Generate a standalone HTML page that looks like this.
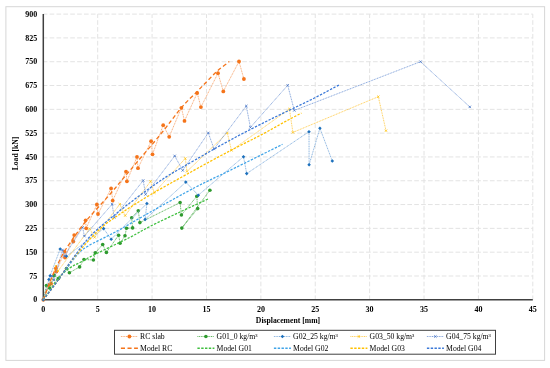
<!DOCTYPE html>
<html><head><meta charset="utf-8"><style>
html,body{margin:0;padding:0;background:#fff;}
svg{display:block;}
svg text{font-family:"Liberation Serif",serif;font-size:8px;fill:#000;}
</style></head><body>
<svg width="550" height="368" viewBox="0 0 550 368">
<rect x="5.9" y="6.7" width="538.7" height="353.7" fill="#fff" stroke="#D6D6D6" stroke-width="1"/>
<path d="M43.3,14.10H532.8 M43.3,37.91H532.8 M43.3,61.72H532.8 M43.3,85.52H532.8 M43.3,109.33H532.8 M43.3,133.14H532.8 M43.3,156.95H532.8 M43.3,180.76H532.8 M43.3,204.57H532.8 M43.3,228.37H532.8 M43.3,252.18H532.8 M43.3,275.99H532.8" stroke="#E3E3E3" stroke-width="1" stroke-dasharray="4.7,2.18" stroke-dashoffset="0.6" fill="none"/>
<path d="M97.69,14.1V299.8 M152.08,14.1V299.8 M206.47,14.1V299.8 M260.86,14.1V299.8 M315.24,14.1V299.8 M369.63,14.1V299.8 M424.02,14.1V299.8 M478.41,14.1V299.8 M532.80,14.1V299.8" stroke="#E3E3E3" stroke-width="1" stroke-dasharray="4.7,2.18" stroke-dashoffset="0.8" fill="none"/>
<path d="M43.3,14.1V299.8H532.8" stroke="#404040" stroke-width="1.5" fill="none"/>
<polyline points="43.3,299.8 49.2,284.6 51.1,283.7 55.8,268.3 56.4,271.5 64.6,251.7 65.0,257.6 74.2,235.1 73.3,241.5 85.6,220.3 86.2,228.3 96.9,204.5 98.0,214.0 111.1,188.4 112.7,200.6 126.0,171.6 126.9,181.3 137.0,156.9 138.0,168.2 151.1,141.2 152.5,154.3 163.2,125.2 169.2,136.8 181.4,107.8 184.5,120.9 197.2,93.0 200.9,107.1 218.0,73.2 223.3,91.4 239.0,61.5 243.9,79.0" fill="none" stroke="#F7A066" stroke-width="0.9" stroke-dasharray="1,0.7"/>
<circle cx="43.3" cy="299.8" r="1.9" fill="#F5741A"/>
<circle cx="49.2" cy="284.6" r="1.9" fill="#F5741A"/>
<circle cx="51.1" cy="283.7" r="1.9" fill="#F5741A"/>
<circle cx="55.8" cy="268.3" r="1.9" fill="#F5741A"/>
<circle cx="56.4" cy="271.5" r="1.9" fill="#F5741A"/>
<circle cx="64.6" cy="251.7" r="1.9" fill="#F5741A"/>
<circle cx="65.0" cy="257.6" r="1.9" fill="#F5741A"/>
<circle cx="74.2" cy="235.1" r="1.9" fill="#F5741A"/>
<circle cx="73.3" cy="241.5" r="1.9" fill="#F5741A"/>
<circle cx="85.6" cy="220.3" r="1.9" fill="#F5741A"/>
<circle cx="86.2" cy="228.3" r="1.9" fill="#F5741A"/>
<circle cx="96.9" cy="204.5" r="1.9" fill="#F5741A"/>
<circle cx="98.0" cy="214.0" r="1.9" fill="#F5741A"/>
<circle cx="111.1" cy="188.4" r="1.9" fill="#F5741A"/>
<circle cx="112.7" cy="200.6" r="1.9" fill="#F5741A"/>
<circle cx="126.0" cy="171.6" r="1.9" fill="#F5741A"/>
<circle cx="126.9" cy="181.3" r="1.9" fill="#F5741A"/>
<circle cx="137.0" cy="156.9" r="1.9" fill="#F5741A"/>
<circle cx="138.0" cy="168.2" r="1.9" fill="#F5741A"/>
<circle cx="151.1" cy="141.2" r="1.9" fill="#F5741A"/>
<circle cx="152.5" cy="154.3" r="1.9" fill="#F5741A"/>
<circle cx="163.2" cy="125.2" r="1.9" fill="#F5741A"/>
<circle cx="169.2" cy="136.8" r="1.9" fill="#F5741A"/>
<circle cx="181.4" cy="107.8" r="1.9" fill="#F5741A"/>
<circle cx="184.5" cy="120.9" r="1.9" fill="#F5741A"/>
<circle cx="197.2" cy="93.0" r="1.9" fill="#F5741A"/>
<circle cx="200.9" cy="107.1" r="1.9" fill="#F5741A"/>
<circle cx="218.0" cy="73.2" r="1.9" fill="#F5741A"/>
<circle cx="223.3" cy="91.4" r="1.9" fill="#F5741A"/>
<circle cx="239.0" cy="61.5" r="1.9" fill="#F5741A"/>
<circle cx="243.9" cy="79.0" r="1.9" fill="#F5741A"/>
<polyline points="43.3,299.8 46.5,285.5 49.6,288.0 54.3,275.4 58.5,278.6 66.5,268.5 69.4,272.8 79.6,266.9 84.0,259.5 93.4,260.0 95.3,252.8 102.7,244.5 106.4,252.4 118.6,235.2 120.1,243.2 125.0,235.8 126.5,228.2 132.6,227.9 131.7,217.7 138.3,210.8 139.9,222.6 180.1,202.6 181.4,215.0 196.8,196.3 197.7,208.6 181.8,228.1 209.9,190.2" fill="none" stroke="#4FAE4F" stroke-width="0.9" stroke-dasharray="1,0.7"/>
<circle cx="46.5" cy="285.5" r="1.8" fill="#2E9A2E"/>
<circle cx="49.6" cy="288.0" r="1.8" fill="#2E9A2E"/>
<circle cx="54.3" cy="275.4" r="1.8" fill="#2E9A2E"/>
<circle cx="58.5" cy="278.6" r="1.8" fill="#2E9A2E"/>
<circle cx="66.5" cy="268.5" r="1.8" fill="#2E9A2E"/>
<circle cx="69.4" cy="272.8" r="1.8" fill="#2E9A2E"/>
<circle cx="79.6" cy="266.9" r="1.8" fill="#2E9A2E"/>
<circle cx="84.0" cy="259.5" r="1.8" fill="#2E9A2E"/>
<circle cx="93.4" cy="260.0" r="1.8" fill="#2E9A2E"/>
<circle cx="95.3" cy="252.8" r="1.8" fill="#2E9A2E"/>
<circle cx="102.7" cy="244.5" r="1.8" fill="#2E9A2E"/>
<circle cx="106.4" cy="252.4" r="1.8" fill="#2E9A2E"/>
<circle cx="118.6" cy="235.2" r="1.8" fill="#2E9A2E"/>
<circle cx="120.1" cy="243.2" r="1.8" fill="#2E9A2E"/>
<circle cx="125.0" cy="235.8" r="1.8" fill="#2E9A2E"/>
<circle cx="126.5" cy="228.2" r="1.8" fill="#2E9A2E"/>
<circle cx="132.6" cy="227.9" r="1.8" fill="#2E9A2E"/>
<circle cx="131.7" cy="217.7" r="1.8" fill="#2E9A2E"/>
<circle cx="138.3" cy="210.8" r="1.8" fill="#2E9A2E"/>
<circle cx="139.9" cy="222.6" r="1.8" fill="#2E9A2E"/>
<circle cx="180.1" cy="202.6" r="1.8" fill="#2E9A2E"/>
<circle cx="181.4" cy="215.0" r="1.8" fill="#2E9A2E"/>
<circle cx="196.8" cy="196.3" r="1.8" fill="#2E9A2E"/>
<circle cx="197.7" cy="208.6" r="1.8" fill="#2E9A2E"/>
<circle cx="181.8" cy="228.1" r="1.8" fill="#2E9A2E"/>
<circle cx="209.9" cy="190.2" r="1.8" fill="#2E9A2E"/>
<polyline points="43.3,299.8 48.9,279.5 50.1,275.8 60.2,249.0 66.4,256.3 103.6,228.6 111.2,239.2 146.9,203.5 145.1,219.4 185.8,182.1 198.3,195.2 243.5,156.7 246.7,173.6 309.0,131.7 309.1,164.8 319.9,128.2 332.3,161.0" fill="none" stroke="#78A8DA" stroke-width="0.9" stroke-dasharray="1,0.7"/>
<path d="M43.3,298.0L45.1,299.8L43.3,301.6L41.5,299.8Z" fill="#1C70BC"/>
<path d="M48.9,277.7L50.7,279.5L48.9,281.3L47.1,279.5Z" fill="#1C70BC"/>
<path d="M50.1,274.0L51.9,275.8L50.1,277.6L48.3,275.8Z" fill="#1C70BC"/>
<path d="M60.2,247.2L62.0,249.0L60.2,250.8L58.4,249.0Z" fill="#1C70BC"/>
<path d="M66.4,254.5L68.2,256.3L66.4,258.1L64.6,256.3Z" fill="#1C70BC"/>
<path d="M103.6,226.8L105.4,228.6L103.6,230.4L101.8,228.6Z" fill="#1C70BC"/>
<path d="M111.2,237.4L113.0,239.2L111.2,241.0L109.4,239.2Z" fill="#1C70BC"/>
<path d="M146.9,201.7L148.7,203.5L146.9,205.3L145.1,203.5Z" fill="#1C70BC"/>
<path d="M145.1,217.6L146.9,219.4L145.1,221.2L143.3,219.4Z" fill="#1C70BC"/>
<path d="M185.8,180.3L187.6,182.1L185.8,183.9L184.0,182.1Z" fill="#1C70BC"/>
<path d="M198.3,193.4L200.1,195.2L198.3,197.0L196.5,195.2Z" fill="#1C70BC"/>
<path d="M243.5,154.9L245.3,156.7L243.5,158.5L241.7,156.7Z" fill="#1C70BC"/>
<path d="M246.7,171.8L248.5,173.6L246.7,175.4L244.9,173.6Z" fill="#1C70BC"/>
<path d="M309.0,129.9L310.8,131.7L309.0,133.5L307.2,131.7Z" fill="#1C70BC"/>
<path d="M309.1,163.0L310.9,164.8L309.1,166.6L307.3,164.8Z" fill="#1C70BC"/>
<path d="M319.9,126.4L321.7,128.2L319.9,130.0L318.1,128.2Z" fill="#1C70BC"/>
<path d="M332.3,159.2L334.1,161.0L332.3,162.8L330.5,161.0Z" fill="#1C70BC"/>
<polyline points="43.3,299.8 56.0,266.0 58.0,271.0 89.7,228.6 94.6,237.3 119.8,204.2 125.2,215.6 150.6,181.3 154.3,192.7 185.3,158.4 187.0,171.4 227.3,132.9 231.5,150.4 289.4,109.0 292.9,132.4 378.3,96.7 386.0,130.7" fill="none" stroke="#FFC947" stroke-width="0.9" stroke-dasharray="1,0.7"/>
<path d="M54.8,264.8L57.2,267.2M57.2,264.8L54.8,267.2 M56.8,269.8L59.2,272.2M59.2,269.8L56.8,272.2 M88.5,227.4L90.9,229.8M90.9,227.4L88.5,229.8 M93.4,236.1L95.8,238.5M95.8,236.1L93.4,238.5 M118.6,203.0L121.0,205.4M121.0,203.0L118.6,205.4 M124.0,214.4L126.4,216.8M126.4,214.4L124.0,216.8 M149.4,180.1L151.8,182.5M151.8,180.1L149.4,182.5 M153.1,191.5L155.5,193.9M155.5,191.5L153.1,193.9 M184.1,157.2L186.5,159.6M186.5,157.2L184.1,159.6 M185.8,170.2L188.2,172.6M188.2,170.2L185.8,172.6 M226.1,131.7L228.5,134.1M228.5,131.7L226.1,134.1 M230.3,149.2L232.7,151.6M232.7,149.2L230.3,151.6 M288.2,107.8L290.6,110.2M290.6,107.8L288.2,110.2 M291.7,131.2L294.1,133.6M294.1,131.2L291.7,133.6 M377.1,95.5L379.5,97.9M379.5,95.5L377.1,97.9 M384.8,129.5L387.2,131.9M387.2,129.5L384.8,131.9" stroke="#FFC000" stroke-width="0.7" fill="none"/>
<polyline points="43.3,299.8 52.0,276.0 54.0,280.0 62.5,250.0 64.5,256.0 82.6,227.4 84.4,236.1 112.1,204.2 114.2,217.3 143.2,180.5 145.6,194.4 174.7,155.9 182.7,170.4 208.3,132.9 214.0,148.9 246.3,106.0 250.4,127.4 287.7,85.3 294.3,110.4 420.5,61.7 469.8,106.9" fill="none" stroke="#7598D6" stroke-width="0.9" stroke-dasharray="1,0.7"/>
<path d="M50.8,274.8L53.2,277.2M53.2,274.8L50.8,277.2 M52.8,278.8L55.2,281.2M55.2,278.8L52.8,281.2 M61.3,248.8L63.7,251.2M63.7,248.8L61.3,251.2 M63.3,254.8L65.7,257.2M65.7,254.8L63.3,257.2 M81.4,226.2L83.8,228.6M83.8,226.2L81.4,228.6 M83.2,234.9L85.6,237.3M85.6,234.9L83.2,237.3 M110.9,203.0L113.3,205.4M113.3,203.0L110.9,205.4 M113.0,216.1L115.4,218.5M115.4,216.1L113.0,218.5 M142.0,179.3L144.4,181.7M144.4,179.3L142.0,181.7 M144.4,193.2L146.8,195.6M146.8,193.2L144.4,195.6 M173.5,154.7L175.9,157.1M175.9,154.7L173.5,157.1 M181.5,169.2L183.9,171.6M183.9,169.2L181.5,171.6 M207.1,131.7L209.5,134.1M209.5,131.7L207.1,134.1 M212.8,147.7L215.2,150.1M215.2,147.7L212.8,150.1 M245.1,104.8L247.5,107.2M247.5,104.8L245.1,107.2 M249.2,126.2L251.6,128.6M251.6,126.2L249.2,128.6 M286.5,84.1L288.9,86.5M288.9,84.1L286.5,86.5 M293.1,109.2L295.5,111.6M295.5,109.2L293.1,111.6 M419.3,60.5L421.7,62.9M421.7,60.5L419.3,62.9 M468.6,105.7L471.0,108.1M471.0,105.7L468.6,108.1" stroke="#4472C4" stroke-width="0.8" fill="none"/>
<path d="M43.3,299.8 C44.1,297.7 46.4,291.2 48.0,287.0 C49.6,282.8 51.3,278.4 53.0,274.5 C54.7,270.6 55.9,267.8 58.1,263.5 C60.3,259.2 61.8,255.4 66.3,248.5 C70.8,241.6 78.1,230.9 85.3,222.0 C92.5,213.1 101.8,203.6 109.3,195.0 C116.8,186.4 121.5,180.4 130.0,170.4 C138.4,160.4 151.4,145.5 160.0,135.0 C168.6,124.5 175.4,114.8 181.5,107.6 C187.6,100.4 192.3,96.5 196.7,92.0 C201.0,87.5 204.1,84.4 207.6,80.8 C211.1,77.2 214.2,73.8 217.8,70.6 C221.4,67.4 227.4,63.1 229.3,61.6" fill="none" stroke="#F5741A" stroke-width="1.3" stroke-dasharray="4,2.6"/>
<path d="M43.3,299.8 C44.5,298.1 48.1,293.0 50.5,289.5 C52.9,286.0 55.2,281.6 57.5,278.8 C59.8,276.0 61.6,274.6 64.0,272.5 C66.4,270.4 69.0,268.3 72.0,266.5 C75.0,264.7 78.2,263.5 82.0,261.5 C85.8,259.5 87.0,258.4 95.0,254.4 C103.0,250.4 120.8,242.0 130.0,237.3 C139.2,232.6 141.7,230.6 150.0,226.4 C158.3,222.2 170.3,216.6 180.0,212.0 C189.7,207.4 203.7,201.0 208.4,198.8" fill="none" stroke="#3FBF3F" stroke-width="1.25" stroke-dasharray="2.4,1.4"/>
<path d="M43.3,299.8 C45.7,296.7 53.7,286.1 57.5,281.0 C61.3,275.9 62.5,274.1 66.0,269.5 C69.5,264.9 74.5,257.5 78.3,253.5 C82.1,249.5 84.2,248.4 89.0,245.5 C93.8,242.6 101.8,239.0 107.0,236.3 C112.2,233.6 112.8,233.5 120.0,229.5 C127.2,225.5 137.5,219.3 150.0,212.3 C162.5,205.3 181.7,194.5 195.0,187.5 C208.3,180.5 215.4,177.6 230.0,170.4 C244.6,163.2 273.8,148.7 282.5,144.3" fill="none" stroke="#3FA4E8" stroke-width="1.25" stroke-dasharray="2.4,1.4"/>
<path d="M43.3,299.8 C45.7,296.7 52.6,287.7 57.5,281.0 C62.4,274.3 65.8,267.8 72.5,259.5 C79.2,251.2 89.8,238.6 97.7,231.0 C105.6,223.4 111.3,220.0 120.0,214.0 C128.7,208.0 138.8,201.7 150.0,195.0 C161.2,188.3 174.0,181.4 187.3,174.0 C200.6,166.6 217.9,157.2 230.0,150.8 C242.1,144.4 250.3,140.6 260.0,135.5 C269.7,130.4 281.3,123.7 288.2,120.0 C295.1,116.3 299.2,114.2 301.4,113.1" fill="none" stroke="#FFC000" stroke-width="1.25" stroke-dasharray="2.4,1.4"/>
<path d="M43.3,299.8 C45.7,296.7 52.6,287.8 57.5,281.0 C62.4,274.2 66.9,266.6 72.5,259.0 C78.1,251.4 83.0,243.6 90.9,235.5 C98.8,227.4 110.2,218.5 120.0,210.6 C129.8,202.7 141.8,193.9 150.0,188.0 C158.2,182.1 161.7,179.7 169.2,175.0 C176.7,170.3 184.9,165.8 195.0,160.0 C205.1,154.2 217.7,146.9 230.0,140.2 C242.3,133.5 255.7,126.7 269.1,120.0 C282.5,113.3 298.8,105.9 310.5,100.0 C322.2,94.1 334.8,87.2 339.6,84.7" fill="none" stroke="#3A78D8" stroke-width="1.25" stroke-dasharray="2.4,1.4"/>
<g font-family="Liberation Serif, serif" font-weight="bold" font-size="8" fill="#000"><text x="37.3" y="302.4" text-anchor="end">0</text><text x="37.3" y="278.6" text-anchor="end">75</text><text x="37.3" y="254.8" text-anchor="end">150</text><text x="37.3" y="231.0" text-anchor="end">225</text><text x="37.3" y="207.2" text-anchor="end">300</text><text x="37.3" y="183.4" text-anchor="end">375</text><text x="37.3" y="159.6" text-anchor="end">450</text><text x="37.3" y="135.7" text-anchor="end">525</text><text x="37.3" y="111.9" text-anchor="end">600</text><text x="37.3" y="88.1" text-anchor="end">675</text><text x="37.3" y="64.3" text-anchor="end">750</text><text x="37.3" y="40.5" text-anchor="end">825</text><text x="37.3" y="16.7" text-anchor="end">900</text><text x="43.3" y="312" text-anchor="middle">0</text><text x="97.7" y="312" text-anchor="middle">5</text><text x="152.1" y="312" text-anchor="middle">10</text><text x="206.5" y="312" text-anchor="middle">15</text><text x="260.9" y="312" text-anchor="middle">20</text><text x="315.2" y="312" text-anchor="middle">25</text><text x="369.6" y="312" text-anchor="middle">30</text><text x="424.0" y="312" text-anchor="middle">35</text><text x="478.4" y="312" text-anchor="middle">40</text><text x="532.8" y="312" text-anchor="middle">45</text></g>
<text x="288" y="322.8" text-anchor="middle" font-family="Liberation Serif, serif" font-weight="bold" font-size="7.7" style="font-size:7.7px">Displacement [mm]</text>
<text transform="translate(17.8,153.5) rotate(-90)" text-anchor="middle" font-family="Liberation Serif, serif" font-weight="bold" style="font-size:7.6px">Load [kN]</text>
<rect x="114.5" y="330.3" width="381" height="23.9" fill="#fff" stroke="#404040" stroke-width="1"/>
<path d="M120.9,336.5h17" stroke="#F7A066" stroke-width="0.9" stroke-dasharray="1,0.7"/>
<circle cx="129.4" cy="336.5" r="1.9" fill="#F5741A"/>
<path d="M120.9,348.3h17" stroke="#F5741A" stroke-width="1.4" stroke-dasharray="4.1,2.5"/>
<text x="140.1" y="339.2" style="font-size:7.7px">RC slab</text>
<text x="140.1" y="351.0" style="font-size:7.7px">Model RC</text>
<path d="M197.4,336.5h17" stroke="#4FAE4F" stroke-width="0.9" stroke-dasharray="1,0.7"/>
<circle cx="205.9" cy="336.5" r="1.8" fill="#2E9A2E"/>
<path d="M197.4,348.3h17" stroke="#3FBF3F" stroke-width="1.4" stroke-dasharray="2.4,1.4"/>
<text x="216.6" y="339.2" style="font-size:7.7px">G01_0 kg/m³</text>
<text x="216.6" y="351.0" style="font-size:7.7px">Model G01</text>
<path d="M273.9,336.5h17" stroke="#78A8DA" stroke-width="0.9" stroke-dasharray="1,0.7"/>
<path d="M282.4,334.7L284.2,336.5L282.4,338.3L280.6,336.5Z" fill="#1C70BC"/>
<path d="M273.9,348.3h17" stroke="#3FA4E8" stroke-width="1.4" stroke-dasharray="2.4,1.4"/>
<text x="293.1" y="339.2" style="font-size:7.7px">G02_25 kg/m³</text>
<text x="293.1" y="351.0" style="font-size:7.7px">Model G02</text>
<path d="M350.4,336.5h17" stroke="#FFC947" stroke-width="0.9" stroke-dasharray="1,0.7"/>
<path d="M357.7,335.3L360.1,337.7M360.1,335.3L357.7,337.7" stroke="#FFC000" stroke-width="0.8" fill="none"/>
<path d="M350.4,348.3h17" stroke="#FFC000" stroke-width="1.4" stroke-dasharray="2.4,1.4"/>
<text x="369.6" y="339.2" style="font-size:7.7px">G03_50 kg/m³</text>
<text x="369.6" y="351.0" style="font-size:7.7px">Model G03</text>
<path d="M426.9,336.5h17" stroke="#7598D6" stroke-width="0.9" stroke-dasharray="1,0.7"/>
<path d="M434.2,335.3L436.6,337.7M436.6,335.3L434.2,337.7" stroke="#4472C4" stroke-width="0.8" fill="none"/>
<path d="M426.9,348.3h17" stroke="#3A78D8" stroke-width="1.4" stroke-dasharray="2.4,1.4"/>
<text x="446.1" y="339.2" style="font-size:7.7px">G04_75 kg/m³</text>
<text x="446.1" y="351.0" style="font-size:7.7px">Model G04</text>
</svg>
</body></html>
